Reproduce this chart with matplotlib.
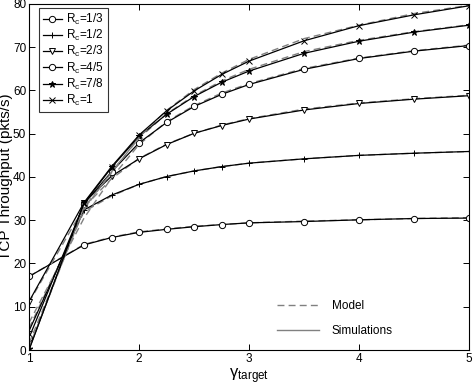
import matplotlib
matplotlib.use("Agg")
import matplotlib.pyplot as plt
from matplotlib.lines import Line2D

plt.rcParams["font.family"] = ["Liberation Sans", "DejaVu Sans"]
plt.rcParams["mathtext.fontset"] = "custom"
plt.rcParams["mathtext.rm"] = "Liberation Sans"
plt.rcParams["mathtext.it"] = "Liberation Sans"

gamma = [1, 1.5, 1.75, 2, 2.25, 2.5, 2.75, 3, 3.5, 4, 4.5, 5]

labels = ["1/3", "1/2", "2/3", "4/5", "7/8", "1"]
markers = ["o", "+", "v", "o", "*", "x"]

# simulations
sim_13 = [17.0, 24.3, 26.0, 27.2, 27.9, 28.5, 29.0, 29.4, 29.7, 30.1, 30.4, 30.5]
sim_12 = [4.4, 32.4, 35.8, 38.3, 40.1, 41.4, 42.4, 43.2, 44.2, 45.0, 45.5, 45.9]
sim_23 = [11.2, 34.1, 40.2, 44.2, 47.5, 50.1, 51.9, 53.4, 55.5, 57.0, 58.0, 58.8]
sim_45 = [2.8, 33.8, 41.2, 47.9, 52.6, 56.3, 59.1, 61.4, 64.9, 67.4, 69.1, 70.4]
sim_78 = [0.2, 33.9, 42.2, 49.4, 54.5, 58.6, 61.9, 64.5, 68.6, 71.4, 73.5, 75.1]
sim_1 = [0.0, 34.1, 42.4, 49.7, 55.3, 59.9, 63.7, 66.8, 71.5, 75.0, 77.5, 79.6]

# model
mod_13 = [17.0, 24.4, 26.1, 27.3, 28.0, 28.6, 29.0, 29.4, 29.8, 30.1, 30.4, 30.6]
mod_12 = [5.0, 32.0, 35.6, 38.3, 40.1, 41.4, 42.4, 43.2, 44.2, 45.0, 45.5, 45.9]
mod_23 = [11.0, 33.0, 39.6, 44.3, 47.6, 50.1, 52.0, 53.5, 55.7, 57.1, 58.1, 58.9]
mod_45 = [6.3, 30.5, 39.8, 47.5, 52.8, 56.5, 59.4, 61.6, 65.1, 67.5, 69.2, 70.5]
mod_78 = [1.5, 32.5, 41.2, 49.0, 54.6, 58.8, 62.2, 64.9, 69.0, 71.6, 73.6, 75.2]
mod_1 = [0.5, 33.0, 41.0, 49.2, 55.4, 60.2, 64.0, 67.2, 72.0, 75.1, 77.8, 79.7]

sims = [sim_13, sim_12, sim_23, sim_45, sim_78, sim_1]
mods = [mod_13, mod_12, mod_23, mod_45, mod_78, mod_1]

fig = plt.figure(figsize=(4.74, 3.87), dpi=100)
ax = fig.add_axes([0.0612, 0.0956, 0.9288, 0.8941])

handles = []
for lab, mk, s, m in zip(labels, markers, sims, mods):
    ax.plot(gamma, m, color="#808080", linestyle=(0, (5, 3)), linewidth=1.0)
    mfc = "black" if mk in ("*", "+", "x") else "white"
    ms = 4.5 if mk != "*" else 5.0
    h, = ax.plot(gamma, s, color="black", linewidth=0.9, marker=mk,
                 markersize=ms, markerfacecolor=mfc, markeredgecolor="black",
                 markeredgewidth=0.7, label=r"R$_\mathrm{c}$=" + lab)
    handles.append(h)

ax.set_xlim(1, 5)
ax.set_ylim(0, 80)
ax.set_xticks([1, 2, 3, 4, 5])
ax.set_yticks(range(0, 81, 10))
ax.tick_params(direction="in", top=True, right=True, length=4, width=0.7,
               labelsize=8.5, pad=2)
for sp in ax.spines.values():
    sp.set_linewidth(0.8)

ax.set_ylabel("TCP Throughput (pkts/s)", fontsize=11, labelpad=0)
ax.set_xlabel("γ$_{\\mathrm{target}}$", fontsize=12, labelpad=1)

leg = ax.legend(handles=handles, loc="upper left",
                bbox_to_anchor=(0.023, 0.988), fontsize=8.5, frameon=True,
                fancybox=False, edgecolor="black", handlelength=1.6,
                handletextpad=0.4, labelspacing=0.1, borderpad=0.3,
                borderaxespad=0.0)
leg.get_frame().set_linewidth(0.8)
ax.add_artist(leg)

style_handles = [
    Line2D([], [], color="#808080", linestyle=(0, (5, 3)), linewidth=1.0),
    Line2D([], [], color="#808080", linewidth=1.0),
]
ax.legend(handles=style_handles, labels=["Model", "Simulations"],
          loc="upper left", bbox_to_anchor=(0.54, 0.175), frameon=False,
          fontsize=8.5, handlelength=3.5, handletextpad=1.1, labelspacing=1.1)

fig.savefig("out.png", dpi=100)
